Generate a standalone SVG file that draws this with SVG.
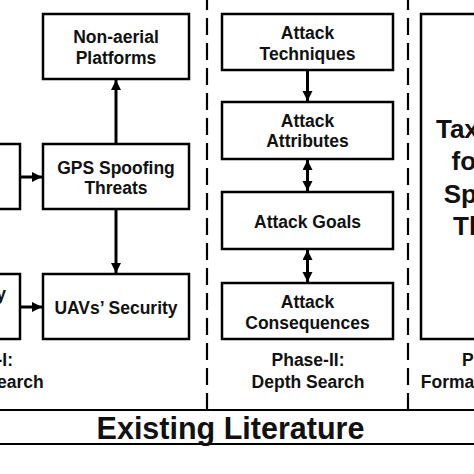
<svg xmlns="http://www.w3.org/2000/svg" width="474" height="474" viewBox="0 0 474 474">
<defs>
<style>
.box{fill:#fff;stroke:#000;stroke-width:2.5}
.t{font-family:"Liberation Sans",Arial,sans-serif;font-weight:bold;font-size:17.5px;fill:#111;text-anchor:middle}
.big{font-size:26px}
.huge{font-size:30.5px}
.en{text-anchor:end}
.dash{stroke:#000;stroke-width:2.2;stroke-dasharray:17 8;fill:none}
.rule{stroke:#000;stroke-width:2.2;fill:none}
.conn{stroke:#000;stroke-width:3;fill:none;marker-end:url(#ah)}
.conn2{stroke:#000;stroke-width:3;fill:none;marker-end:url(#ah);marker-start:url(#ah)}
</style>
<marker id="ah" markerUnits="userSpaceOnUse" markerWidth="11" markerHeight="11" refX="10" refY="5" orient="auto-start-reverse" viewBox="0 0 11 11">
<path d="M0,0 L10,5 L0,10 Z" fill="#000"/>
</marker>
</defs>
<rect width="474" height="474" fill="#fff"/>

<g id="separators">
<line class="dash" x1="207" y1="-7" x2="207" y2="410"/>
<line class="dash" x1="408" y1="-7" x2="408" y2="410"/>
<line class="rule" x1="0" y1="410" x2="474" y2="410"/>
<line class="rule" x1="0" y1="444" x2="474" y2="444"/>
</g>

<g id="connectors">
<line class="conn" x1="116" y1="143" x2="116" y2="80"/>
<line class="conn" x1="116" y1="210" x2="116" y2="273"/>
<line class="conn" x1="21" y1="177" x2="42" y2="177"/>
<line class="conn" x1="21" y1="307" x2="42" y2="307"/>
<line class="conn" x1="307.5" y1="71" x2="307.5" y2="101"/>
<line class="conn2" x1="307.5" y1="160" x2="307.5" y2="191"/>
<line class="conn2" x1="307.5" y1="250" x2="307.5" y2="282"/>
</g>

<g id="node-left-top"><rect class="box" x="-60" y="144" width="80" height="65"/></g>
<g id="node-left-bottom"><rect class="box" x="-60" y="274" width="80" height="65"/><text class="t en" x="6" y="300">y</text></g>

<g id="node-nonaerial"><rect class="box" x="43" y="14" width="146" height="65"/>
<text class="t" x="116" y="43">Non-aerial</text><text class="t" x="116" y="64">Platforms</text></g>
<g id="node-gps"><rect class="box" x="43" y="144" width="146" height="65"/>
<text class="t" x="116" y="174">GPS Spoofing</text><text class="t" x="116" y="194">Threats</text></g>
<g id="node-uav"><rect class="box" x="43" y="274" width="146" height="65"/>
<text class="t" x="116" y="314">UAVs’ Security</text></g>

<g id="node-techniques"><rect class="box" x="222" y="14" width="171" height="56"/>
<text class="t" x="307.5" y="39">Attack</text><text class="t" x="307.5" y="60">Techniques</text></g>
<g id="node-attributes"><rect class="box" x="222" y="102" width="171" height="57"/>
<text class="t" x="307.5" y="127">Attack</text><text class="t" x="307.5" y="147">Attributes</text></g>
<g id="node-goals"><rect class="box" x="222" y="192" width="171" height="57"/>
<text class="t" x="307.5" y="228">Attack Goals</text></g>
<g id="node-consequences"><rect class="box" x="222" y="283" width="171" height="56"/>
<text class="t" x="307.5" y="307.5">Attack</text><text class="t" x="307.5" y="329">Consequences</text></g>

<g id="node-taxonomy"><rect class="box" x="421" y="14" width="160" height="325"/>
<text class="t big" x="500" y="138">Taxonomy</text>
<text class="t big" x="500" y="170">for GPS</text>
<text class="t big" x="500" y="203">Spoofing</text>
<text class="t big" x="500" y="235">Threats</text></g>

<g id="labels">
<text class="t" x="-21" y="366">Phase-I:</text>
<text class="t" x="-21" y="388">Breadth Search</text>
<text class="t" x="308" y="366">Phase-II:</text>
<text class="t" x="308" y="388">Depth Search</text>
<text class="t" x="501" y="366">Phase-III:</text>
<text class="t" x="495.5" y="388">Formal Taxonomy</text>
<text class="t huge" x="230.5" y="438.5">Existing Literature</text>
</g>
</svg>
